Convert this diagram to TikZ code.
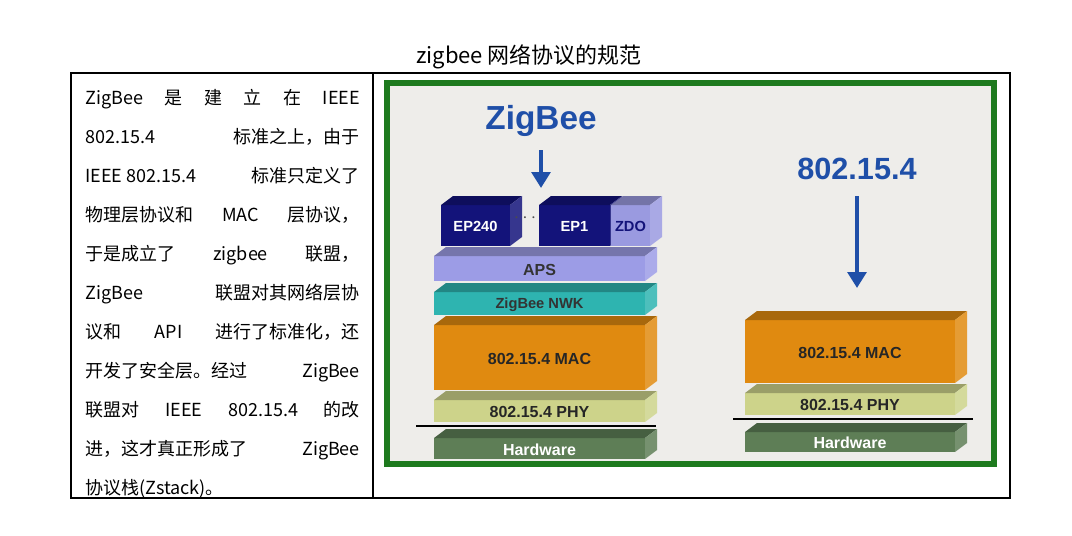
\documentclass[tikz,border=0pt]{standalone}
\usepackage{fontspec}
\usetikzlibrary{arrows.meta}
\setmainfont{Noto Sans CJK SC}
\newfontfamily\arialf{Liberation Sans}
\definecolor{frameg}{HTML}{1E7A1E}
\definecolor{panelbg}{HTML}{EEEDEA}
\definecolor{epblue}{HTML}{13137A}
\definecolor{zdo}{HTML}{9A9AE0}
\definecolor{aps}{HTML}{9C9CE6}
\definecolor{nwk}{HTML}{2EB4B0}
\definecolor{mac}{HTML}{E08A10}
\definecolor{phy}{HTML}{CDD38A}
\definecolor{hw}{HTML}{5E7E56}
\definecolor{zblue}{HTML}{1F4FA8}
\newcommand\blk[6]{%
 \fill[#5] (#1,#2) rectangle (#3,#4);
 \fill[#5!75!black] (#1,#2) -- ++(12,-9) -- (#3+12,#2-9) -- (#3,#2) -- cycle;
 \fill[#5!85!white] (#3,#2) -- ++(12,-9) -- (#3+12,#4-9) -- (#3,#4) -- cycle;
 \node[font=\arialf\bfseries\fontsize{#6}{#6}\selectfont] at ({(#1+#3)/2},{(#2+#4)/2+1})}
\begin{document}
\begin{tikzpicture}[x=0.75pt,y=-0.75pt,
 line/.style={font=\fontsize{13.5pt}{16pt}\selectfont,anchor=base west,inner sep=0pt}]
\useasboundingbox (0,0) rectangle (1072,536);
\node[font=\fontsize{16.5pt}{18pt}\selectfont] (title) at (529,57) {zigbee 网络协议的规范};
\draw[line width=1pt] (71,73) rectangle (1010,498);
\draw[line width=1pt] (373,73) -- (373,498);
% left text
\foreach \t [count=\i] in {%
 {ZigBee\hfill 是\hfill 建\hfill 立\hfill 在\hfill IEEE},
 {802.15.4\hfill 标准之上，由于},
 {IEEE 802.15.4\hfill 标准只定义了},
 {物理层协议和\hfill MAC\hfill 层协议，},
 {于是成立了\hfill zigbee\hfill 联盟，},
 {ZigBee\hfill 联盟对其网络层协},
 {议和\hfill API\hfill 进行了标准化，还},
 {开发了安全层。经过\hfill ZigBee},
 {联盟对\hfill IEEE\hfill 802.15.4\hfill 的改},
 {进，这才真正形成了\hfill ZigBee}}
 {\node[line] (l\i) at (85,{104+39*(\i-1)}) {\makebox[206pt][s]{\t}};}
\node[line] (l11) at (85,494) {协议栈(Zstack)。};
% panel
\fill[panelbg] (384,80) rectangle (997,467);
\draw[frameg,line width=4.5pt] (387,83) rectangle (994,464);
\node[text=zblue,font=\arialf\bfseries\fontsize{25pt}{25pt}\selectfont] (zb) at (541,121) {ZigBee};
\draw[zblue,line width=3pt,-{Triangle[length=12pt,width=14pt]}] (541,150) -- (541,188);
\node[text=zblue,font=\arialf\bfseries\fontsize{23pt}{23pt}\selectfont] (ie) at (857,169) {802.15.4};
\draw[zblue,line width=3pt,-{Triangle[length=12pt,width=14pt]}] (857,196) -- (857,288);
% left stack
\blk{441}{205}{510}{246}{epblue}{11}[text=white]{EP240};
\blk{539}{205}{610}{246}{epblue}{11}[text=white]{EP1};
\blk{611}{205}{650}{246}{zdo}{11}[text=epblue]{ZDO};
\node[font=\arialf\bfseries\Large,text=black!70] (dots) at (525,218) {$\cdots$};
\blk{434}{256}{645}{281}{aps}{12}[text=black!80]{APS};
\blk{434}{292}{645}{315}{nwk}{11}[text=black!80]{ZigBee NWK};
\blk{434}{325}{645}{390}{mac}{12}[text=black!85]{802.15.4 MAC};
\blk{434}{400}{645}{422}{phy}{12}[text=black!85]{802.15.4 PHY};
\draw[line width=2.2pt] (416,426) -- (656,426);
\blk{434}{438}{645}{459}{hw}{12}[text=white]{Hardware};
% right stack
\blk{745}{320}{955}{383}{mac}{12}[text=black!85]{802.15.4 MAC};
\blk{745}{393}{955}{415}{phy}{12}[text=black!85]{802.15.4 PHY};
\draw[line width=2.2pt] (733,419) -- (973,419);
\blk{745}{432}{955}{452}{hw}{12}[text=white]{Hardware};
\end{tikzpicture}
\end{document}
